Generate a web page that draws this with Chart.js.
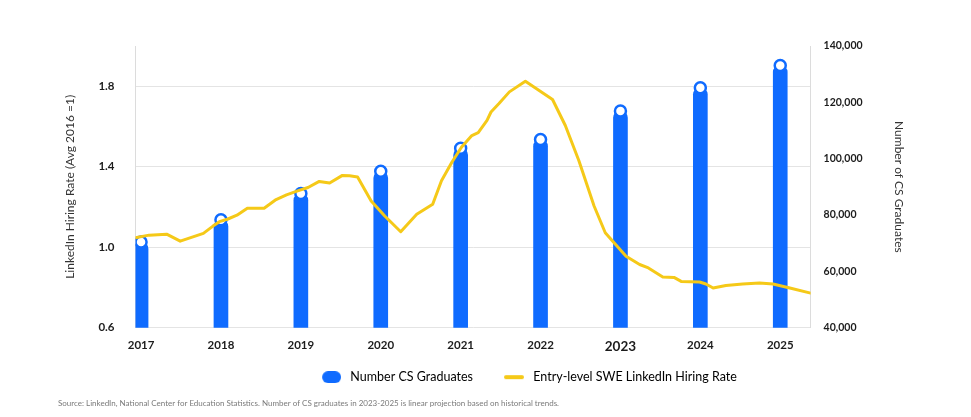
<!DOCTYPE html>
<html>
<head>
<meta charset="utf-8">
<script src="https://cdn.jsdelivr.net/npm/chart.js@4.4.1/dist/chart.umd.min.js"></script>
<style>
  html, body { margin: 0; padding: 0; background: #fff; overflow: hidden; }
  #wrap { width: 971px; height: 417px; position: relative; }
</style>
</head>
<body>
<div id="wrap"><canvas id="chart"></canvas></div>
<script>
// bars: CS graduates per year (right axis)
const years = [2017, 2018, 2019, 2020, 2021, 2022, 2023, 2024, 2025];
const csGraduates = [70400, 78300, 87600, 95500, 103700, 106800, 116900, 125200, 133100];

// line: entry-level SWE hiring rate (left axis), x in fractional years
const rateX = [2016.93, 2017.10, 2017.32, 2017.49, 2017.64, 2017.78, 2017.90, 2017.98, 2018.08, 2018.20,
  2018.33, 2018.54, 2018.69, 2018.82, 2018.96, 2019.09, 2019.23, 2019.36, 2019.52, 2019.61,
  2019.71, 2019.88, 2020.05, 2020.25, 2020.45, 2020.65, 2020.76, 2020.89, 2021.01, 2021.14,
  2021.22, 2021.33, 2021.38, 2021.48, 2021.61, 2021.81, 2022.15, 2022.31, 2022.48, 2022.67,
  2022.81, 2022.92, 2023.07, 2023.24, 2023.35, 2023.53, 2023.67, 2023.76, 2023.99, 2024.07,
  2024.16, 2024.32, 2024.53, 2024.74, 2024.91, 2025.12, 2025.38];
const rateY = [1.047, 1.06, 1.065, 1.03, 1.05, 1.069, 1.105, 1.127, 1.139, 1.159,
  1.194, 1.194, 1.237, 1.26, 1.28, 1.297, 1.327, 1.319, 1.357, 1.355,
  1.349, 1.23, 1.155, 1.077, 1.164, 1.214, 1.33, 1.422, 1.497, 1.555,
  1.569, 1.63, 1.672, 1.714, 1.772, 1.825, 1.734, 1.605, 1.43, 1.205,
  1.072, 1.022, 0.955, 0.914, 0.897, 0.852, 0.85, 0.83, 0.827, 0.817,
  0.797, 0.81, 0.817, 0.822, 0.817, 0.797, 0.772];

const leftTicks = [0.6, 1.0, 1.4, 1.8];
const rightTicks = [40000, 60000, 80000, 100000, 120000, 140000];

const BLUE = "#0f6bff";
const YELLOW = "#f5c918";
const FONT = "Lato, 'Noto Sans', sans-serif";
const legendShift = 34;
const markerBox = 49;

// legend markers: transparent canvas with the visible mark pushed to the right end
const makeMarker = (w, h, color) => {
  const c = document.createElement("canvas");
  c.width = markerBox - 6;
  c.height = 12;
  const g = c.getContext("2d");
  g.fillStyle = color;
  g.beginPath();
  g.roundRect(c.width - w, (12 - h) / 2, w, h, h / 2);
  g.fill();
  return c;
};
const blueMarker = makeMarker(19, 12, BLUE);
const yellowMarker = makeMarker(20, 4, YELLOW);

const shiftLegend = {
  id: "shiftLegend",
  afterLayout(chart) {
    chart.legend.left += legendShift;
    chart.legend.right += legendShift;
  },
};

const barData = years.map((y, i) => ({ x: y, y: csGraduates[i] }));
const lineData = rateX.map((x, i) => ({ x: x, y: rateY[i] }));

new Chart(document.getElementById("chart"), {
  type: "bar",
  data: {
    datasets: [
      {
        type: "line",
        label: "Entry-level SWE LinkedIn Hiring Rate",
        data: lineData,
        yAxisID: "y",
        borderColor: YELLOW,
        borderWidth: 3,
        pointRadius: 0,
        tension: 0,
        borderJoinStyle: "round",
        borderCapStyle: "round",
        order: 0,
      },
      {
        type: "line",
        label: "tops",
        data: barData,
        yAxisID: "y1",
        showLine: false,
        pointRadius: 5.5,
        pointBackgroundColor: "#ffffff",
        pointBorderColor: BLUE,
        pointBorderWidth: 2.5,
        order: 1,
      },
      {
        type: "bar",
        label: "Number CS Graduates",
        data: barData,
        yAxisID: "y1",
        backgroundColor: BLUE,
        barThickness: 14,
        borderRadius: 7,
        order: 2,
      },
    ],
  },
  options: {
    responsive: true,
    maintainAspectRatio: false,
    animation: false,
    events: [],
    layout: { padding: { left: 58, right: 65, top: 46, bottom: 5 } },
    scales: {
      x: {
        type: "linear",
        offset: false,
        min: 2016.93,
        max: 2025.38,
        afterBuildTicks: (axis) => {
          axis.ticks = years.map((v) => ({ value: v }));
        },
        grid: { display: false, drawTicks: false },
        border: { display: false },
        ticks: {
          padding: 11,
          color: "#1c1c1c",
          maxRotation: 0,
          callback: (v) => String(v),
          font: (ctx) => ({
            family: FONT,
            weight: "bold",
            size: ctx.tick && ctx.tick.value === 2023 ? 13.5 : 11.5,
          }),
        },
      },
      y: {
        position: "left",
        min: 0.6,
        max: 2.0,
        afterBuildTicks: (axis) => {
          axis.ticks = leftTicks.map((v) => ({ value: v }));
        },
        grid: { color: "#e4e4e4", drawTicks: false },
        border: { display: true, color: "#dcdcdc" },
        ticks: {
          padding: 21,
          color: "#1c1c1c",
          font: { family: FONT, weight: "bold", size: 11.5 },
          callback: (v) => v.toFixed(1),
        },
        title: {
          display: true,
          text: "LinkedIn Hiring Rate (Avg 2016 =1)",
          color: "#333333",
          font: { family: FONT, size: 12 },
          padding: { top: 5, bottom: 0 },
        },
      },
      y1: {
        position: "right",
        min: 40000,
        max: 140000,
        afterBuildTicks: (axis) => {
          axis.ticks = rightTicks.map((v) => ({ value: v }));
        },
        grid: { display: false, drawTicks: false },
        border: { display: true, color: "#dcdcdc" },
        ticks: {
          padding: 13,
          color: "#1c1c1c",
          font: { family: FONT, weight: "bold", size: 10.5 },
          callback: (v) => v.toLocaleString("en-US"),
        },
        title: {
          display: true,
          text: "Number of CS Graduates",
          color: "#333333",
          font: { family: FONT, size: 12 },
          padding: { top: 0, bottom: 16 },
        },
      },
    },
    plugins: {
      tooltip: { enabled: false },
      legend: {
        position: "bottom",
        labels: {
          usePointStyle: true,
          pointStyleWidth: markerBox,
          padding: 5,
          color: "#333333",
          font: { family: FONT, size: 12.5 },
          generateLabels: () => [
            {
              text: "Number CS Graduates",
              pointStyle: blueMarker,
              fillStyle: BLUE,
              strokeStyle: BLUE,
              lineWidth: 0,
              hidden: false,
              datasetIndex: 2,
            },
            {
              text: "Entry-level SWE LinkedIn Hiring Rate",
              pointStyle: yellowMarker,
              fillStyle: YELLOW,
              strokeStyle: YELLOW,
              lineWidth: 0,
              hidden: false,
              datasetIndex: 0,
            },
          ],
        },
      },
      title: {
        display: true,
        position: "bottom",
        align: "start",
        text: "Source: LinkedIn, National Center for Education Statistics. Number of CS graduates in 2023-2025 is linear projection based on historical trends.",
        color: "#7a7a7a",
        font: { family: FONT, size: 8, weight: "normal" },
        padding: { top: 5, bottom: 4 },
      },
    },
  },
  plugins: [shiftLegend],
});
</script>
</body>
</html>
